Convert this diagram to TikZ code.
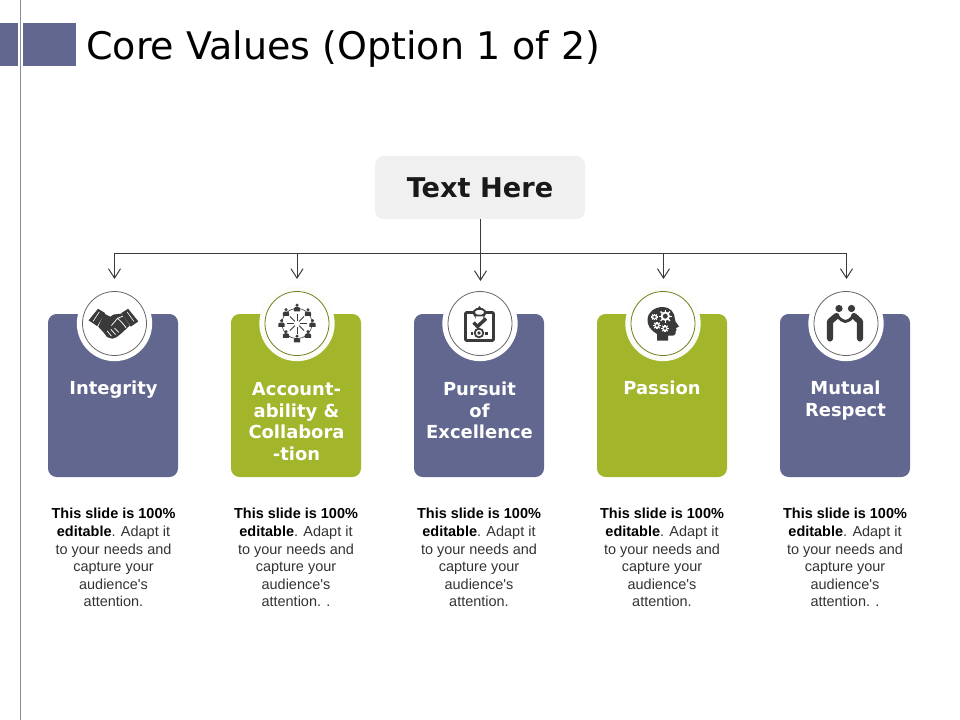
\documentclass[tikz,border=0pt]{standalone}
\usepackage{fontspec}
\setmainfont{Liberation Sans}
\newfontfamily\vfont{DejaVu Sans}
\newfontfamily\bodyfont{Liberation Sans}
\usetikzlibrary{arrows.meta}
\definecolor{purp}{HTML}{62678F}
\definecolor{leaf}{HTML}{A2B52B}
\definecolor{ink}{HTML}{3A3A3A}
\definecolor{pale}{HTML}{F0F0F0}
\definecolor{rulec}{HTML}{8C8C9C}
\tikzset{
 cardbox/.style={minimum width=97.5pt,minimum height=122.25pt,rounded corners=6.5pt,inner sep=0pt},
 halo/.style={circle,fill=#1,minimum size=56.5pt,inner sep=0pt},
 ring/.style={circle,draw=#1,line width=.6pt,fill=white,minimum size=48pt,inner sep=0pt},
 cardlabel/.style={text=white,align=center,font=\vfont\bfseries\fontsize{13.45pt}{16.2pt}\selectfont},
 bodytext/.style={text=black!80,align=center,font=\bodyfont\fontsize{10.85pt}{13.2pt}\selectfont},
 conn/.style={draw=ink,line width=.75pt},
 arr/.style={conn,-{Straight Barb[length=7pt,width=9pt,line width=.75pt]}},
}
\newcommand{\iconshake}{
 \begin{scope}[scale=1.05]
 \fill[ink] (-15.7,-14) -- (-9,-10) -- (-16.5,2.5) -- (-24.7,-3) -- cycle;
 \fill[ink] (13,-14) -- (22.7,-2) -- (15.5,3) -- (6.5,-10) -- cycle;
 \fill[ink] (-10,-9.5) -- (-4,-6.5) -- (-1,-8.5) -- (7,-9.5) -- (14.5,2) -- (7,9) -- (2,13) -- (-2,14.5) -- (-7,13) -- (-10,9) -- (-15.5,3) -- cycle;
 \draw[white,line width=.55pt] (-3,2) -- (3,-5) -- (7,-1) -- (11,4);
 \draw[white,line width=.55pt] (3,-5) -- (8,-7);
 \draw[white,line width=.55pt] (-7,7) -- (-3,12);
 \draw[white,line width=.55pt] (-3.5,5.5) -- (1,10.5);
 \draw[white,line width=.55pt] (0,4.5) -- (4,8.5);
 \draw[white,line width=.45pt] (-14.5,-11) -- (-20.5,-2);
 \draw[white,line width=.45pt] (12,-11) -- (18.5,-2);
 \end{scope}
}
\newcommand{\iconnet}{
 \draw[ink,line width=.45pt] (0,0) circle (15);
 \foreach \a in {0,45,...,315}{
  \draw[ink,line width=.6pt] (\a:3) -- (\a:10);
  \begin{scope}[shift={(\a:15.5)}]
   \fill[ink] (0,-2.8) circle (1.7);
   \fill[ink] (-3.2,3.4) -- (3.2,3.4) -- (3.2,0.2) -- (1.5,-1) -- (-1.5,-1) -- (-3.2,0.2) -- cycle;
  \end{scope}
 }
}
\newcommand{\iconclip}{
 \draw[ink,line width=2.1pt,rounded corners=.8pt] (-14.5,-11) rectangle (13.5,17);
 \draw[ink,line width=1.4pt,fill=white,rounded corners=1.5pt] (-6.5,-10.5) -- (-5,-14.5) -- (4,-14.5) -- (5.5,-10.5) -- (4,-8) -- (-5,-8) -- cycle;
 \fill[ink] (-.5,-16) circle (1.4);
 \draw[ink,line width=2.6pt] (-6.5,-1) -- (-2.5,3) -- (6,-5);
 \draw[ink,line width=1.3pt] (-1,9.5) circle (4.3);
 \fill[ink] (-1,9.5) circle (1.9);
 \fill[ink] (-9.5,8.5) rectangle (-7,11);
 \fill[ink] (5,8.5) rectangle (7.5,11);
}
\newcommand{\icongear}[3]{
 \foreach \a in {0,45,...,315}{\draw[white,line width=1pt] (#1,#2) ++(\a:#3*.7) -- ++(\a:#3*.5);}
 \fill[white] (#1,#2) circle (#3*.85);
 \fill[ink] (#1,#2) circle (#3*.45);
}
\newcommand{\iconhead}{
 \fill[ink] (-6,17) -- (-6,10.5) .. controls (-12,7) and (-16,2) .. (-15.5,-4)
  .. controls (-15,-12) and (-8,-16.5) .. (0,-16.5)
  .. controls (7,-16.5) and (12,-11) .. (12,-4)
  -- (12.5,-2) -- (16,3) -- (13,4.5) -- (13.5,6.5) -- (12.5,8) -- (12.5,10) .. controls (12,13) and (8,12) .. (5,12) -- (5,17) -- cycle;
 \icongear{2.3}{-7.3}{5.5}
 \icongear{-8.5}{-6.5}{2.9}
 \icongear{-6}{2}{3.1}
 \icongear{2}{5}{3.1}
}
\newcommand{\iconbow}{
 \fill[ink] (-7,-15) circle (3.6);
 \fill[ink] (5.5,-15) circle (3.6);
 \draw[ink,line width=4.6pt,line cap=round,line join=round] (-16,15) -- (-16,-2) -- (-9.5,-7.5);
 \draw[ink,line width=4.6pt,line cap=round,line join=round] (14,15) -- (14,-2) -- (8,-7.5);
 \draw[ink,line width=2.2pt,line join=round] (-9.5,-8) -- (-4.5,-3.5) -- (-.7,-2) -- (3.5,-3.5) -- (8,-8);
}
\begin{document}
\begin{tikzpicture}[x=.75pt,y=-.75pt]
\useasboundingbox (0,0) rectangle (960,720);
% header decoration
\fill[purp] (0,23) rectangle (18,66);
\fill[purp] (23,23) rectangle (76,66);
\draw[rulec,line width=.9pt] (20.5,0) -- (20.5,720);
\node[anchor=west,inner sep=0pt,font=\vfont\fontsize{28.5pt}{32pt}\selectfont] (title) at (86,49) {Core Values (Option 1 of 2)};
% top box
\node[fill=pale,minimum width=157.5pt,minimum height=47.25pt,rounded corners=6.5pt,inner sep=0pt,font=\vfont\bfseries\fontsize{20.4pt}{24pt}\selectfont,text=black!90] (top) at (480,187.5) {Text Here};
% cards
\node[cardbox,fill=purp] (c1) at (113,395.5) {};
\node[cardbox,fill=leaf] (c2) at (296,395.5) {};
\node[cardbox,fill=purp] (c3) at (479,395.5) {};
\node[cardbox,fill=leaf] (c4) at (662,395.5) {};
\node[cardbox,fill=purp] (c5) at (845,395.5) {};
% circles
\node[halo=white] (h1) at (114.5,323.5) {};
\node[halo=white!97!leaf] (h2) at (297,323.5) {};
\node[halo=white] (h3) at (480,323.5) {};
\node[halo=white!97!leaf] (h4) at (663,323.5) {};
\node[halo=white] (h5) at (846,323.5) {};
\node[ring=black!60] (r1) at (h1) {};
\node[ring=leaf!70!black] (r2) at (h2) {};
\node[ring=black!60] (r3) at (h3) {};
\node[ring=leaf!70!black] (r4) at (h4) {};
\node[ring=black!60] (r5) at (h5) {};
% icons
\begin{scope}[shift={(h1)}]\iconshake\end{scope}
\begin{scope}[shift={(h2)}]\iconnet\end{scope}
\begin{scope}[shift={(h3)}]\iconclip\end{scope}
\begin{scope}[shift={(h4)}]\iconhead\end{scope}
\begin{scope}[shift={(h5)}]\iconbow\end{scope}
% connectors
\coordinate (b1) at (114.5,253.5);
\coordinate (b2) at (297,253.5);
\coordinate (b4) at (663.5,253.5);
\coordinate (b5) at (846.5,253.5);
\coordinate (t1) at (114.5,279);
\coordinate (t2) at (297,279);
\coordinate (t3) at (480.5,281);
\coordinate (t4) at (663.5,279);
\coordinate (t5) at (846.5,279);
\draw[conn] (b1) -- (b5);
\draw[arr] (top.south -| t3) -- (t3);
\draw[arr] (b1) -- (t1);
\draw[arr] (b2) -- (t2);
\draw[arr] (b4) -- (t4);
\draw[arr] (b5) -- (t5);
% card labels
\node[cardlabel] (l1) at (113.5,389.5) {Integrity};
\node[cardlabel] (l2) at (296.5,421.5) {Account-\\ability \&\\Collabora\\-tion};
\node[cardlabel] (l3) at (479.5,410.5) {Pursuit\\of\\Excellence};
\node[cardlabel] (l4) at (662,387.5) {Passion};
\node[cardlabel] (l5) at (845.5,400.5) {Mutual\\Respect};
% body
\node[bodytext] (d1) at (113.5,557.7) {\textbf{\textcolor{black}{This slide is 100\%}}\\\textbf{\textcolor{black}{editable}}. Adapt it\\to your needs and\\capture your\\audience's\\attention.};
\node[bodytext] (d2) at (296,557.7) {\textbf{\textcolor{black}{This slide is 100\%}}\\\textbf{\textcolor{black}{editable}}. Adapt it\\to your needs and\\capture your\\audience's\\attention. .};
\node[bodytext] (d3) at (479,557.7) {\textbf{\textcolor{black}{This slide is 100\%}}\\\textbf{\textcolor{black}{editable}}. Adapt it\\to your needs and\\capture your\\audience's\\attention.};
\node[bodytext] (d4) at (662,557.7) {\textbf{\textcolor{black}{This slide is 100\%}}\\\textbf{\textcolor{black}{editable}}. Adapt it\\to your needs and\\capture your\\audience's\\attention.};
\node[bodytext] (d5) at (845,557.7) {\textbf{\textcolor{black}{This slide is 100\%}}\\\textbf{\textcolor{black}{editable}}. Adapt it\\to your needs and\\capture your\\audience's\\attention. .};
\end{tikzpicture}
\end{document}
